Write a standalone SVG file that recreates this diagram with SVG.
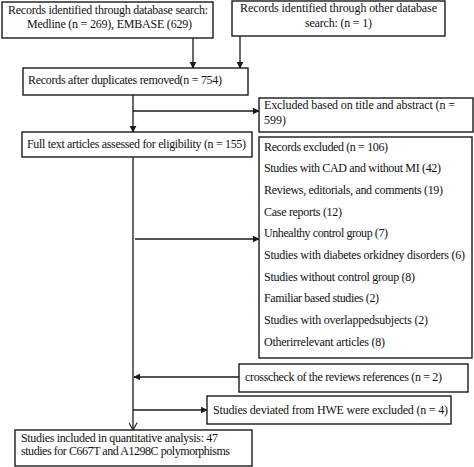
<svg xmlns="http://www.w3.org/2000/svg" width="474" height="467" viewBox="0 0 474 467">
<defs>
<style>
.box{fill:#fff;stroke:#1a1a1a;stroke-width:1.4}
.t{font-family:"Liberation Serif","Times New Roman",serif;font-size:12px;fill:#111}
.c{fill:none;stroke:#1a1a1a;stroke-width:1.3}
</style>
<marker id="ah" viewBox="0 0 10 10" refX="9" refY="5" markerWidth="7" markerHeight="7" markerUnits="userSpaceOnUse" orient="auto">
<path d="M0,0 L10,5 L0,10 z" fill="#1a1a1a"/>
</marker>
<marker id="av" viewBox="0 0 10 10" refX="9" refY="5" markerWidth="9" markerHeight="9" markerUnits="userSpaceOnUse" orient="auto">
<path d="M1,0.5 L9,5 L1,9.5" fill="none" stroke="#1a1a1a" stroke-width="1.3"/>
</marker>
</defs>
<rect width="474" height="467" fill="#fff"/>
<g id="connectors">
<line class="c" x1="193" y1="38" x2="193" y2="68" marker-end="url(#ah)"/>
<line class="c" x1="240" y1="36" x2="240" y2="68" marker-end="url(#ah)"/>
<line class="c" x1="133" y1="95" x2="133" y2="132" marker-end="url(#ah)"/>
<line class="c" x1="133" y1="111" x2="259" y2="111" marker-end="url(#ah)"/>
<line class="c" x1="133" y1="157" x2="133" y2="430" marker-end="url(#av)"/>
<line class="c" x1="135" y1="239" x2="259" y2="239" marker-end="url(#ah)"/>
<line class="c" x1="239" y1="377" x2="134" y2="377" marker-end="url(#ah)"/>
<line class="c" x1="133" y1="410" x2="207" y2="410" marker-end="url(#ah)"/>
</g>
<g id="n1">
<rect class="box" x="2" y="2" width="211" height="36"/>
<text class="t" x="108" y="14" text-anchor="middle" textLength="200">Records identified through database search:</text>
<text class="t" x="109.5" y="28" text-anchor="middle" textLength="165">Medline (n = 269), EMBASE (629)</text>
</g>
<g id="n2">
<rect class="box" x="232" y="1" width="213" height="35"/>
<text class="t" x="338.5" y="12" text-anchor="middle" textLength="197">Records identified through other database</text>
<text class="t" x="338.5" y="27" text-anchor="middle" textLength="67">search: (n = 1)</text>
</g>
<g id="n3">
<rect class="box" x="23" y="68" width="225" height="27"/>
<text class="t" x="28" y="84" textLength="194">Records after duplicates removed(n = 754)</text>
</g>
<g id="n4">
<rect class="box" x="259" y="98" width="214" height="34"/>
<text class="t" x="264" y="109" textLength="191">Excluded based on title and abstract (n =</text>
<text class="t" x="264" y="124">599)</text>
</g>
<g id="n5">
<rect class="box" x="22" y="132" width="230" height="25"/>
<text class="t" x="27" y="148" textLength="219">Full text articles assessed for eligibility (n = 155)</text>
</g>
<g id="n6">
<rect class="box" x="259" y="137" width="213" height="221"/>
<text class="t" x="264" y="151" textLength="124">Records excluded (n = 106)</text>
<text class="t" x="264" y="172" textLength="177">Studies with CAD and without MI (42)</text>
<text class="t" x="264" y="194" textLength="179">Reviews, editorials, and comments (19)</text>
<text class="t" x="264" y="216" textLength="78">Case reports (12)</text>
<text class="t" x="264" y="237" textLength="124">Unhealthy control group (7)</text>
<text class="t" x="264" y="259" textLength="201">Studies with diabetes orkidney disorders (6)</text>
<text class="t" x="264" y="281" textLength="151">Studies without control group (8)</text>
<text class="t" x="264" y="302" textLength="115">Familiar based studies (2)</text>
<text class="t" x="264" y="324" textLength="164">Studies with overlappedsubjects (2)</text>
<text class="t" x="264" y="346" textLength="121">Otherirrelevant articles (8)</text>
</g>
<g id="n7">
<rect class="box" x="239" y="364" width="229" height="28"/>
<text class="t" x="245" y="381" textLength="197">crosscheck of the reviews references (n = 2)</text>
</g>
<g id="n8">
<rect class="box" x="207" y="396" width="244" height="28"/>
<text class="t" x="213" y="414" textLength="235">Studies deviated from  HWE were excluded  (n = 4)</text>
</g>
<g id="n9">
<rect class="box" x="15" y="430" width="237" height="36"/>
<text class="t" x="21" y="442" textLength="197">Studies included in quantitative analysis: 47</text>
<text class="t" x="21" y="455" textLength="209">studies for C667T and A1298C polymorphisms</text>
</g>
</svg>
